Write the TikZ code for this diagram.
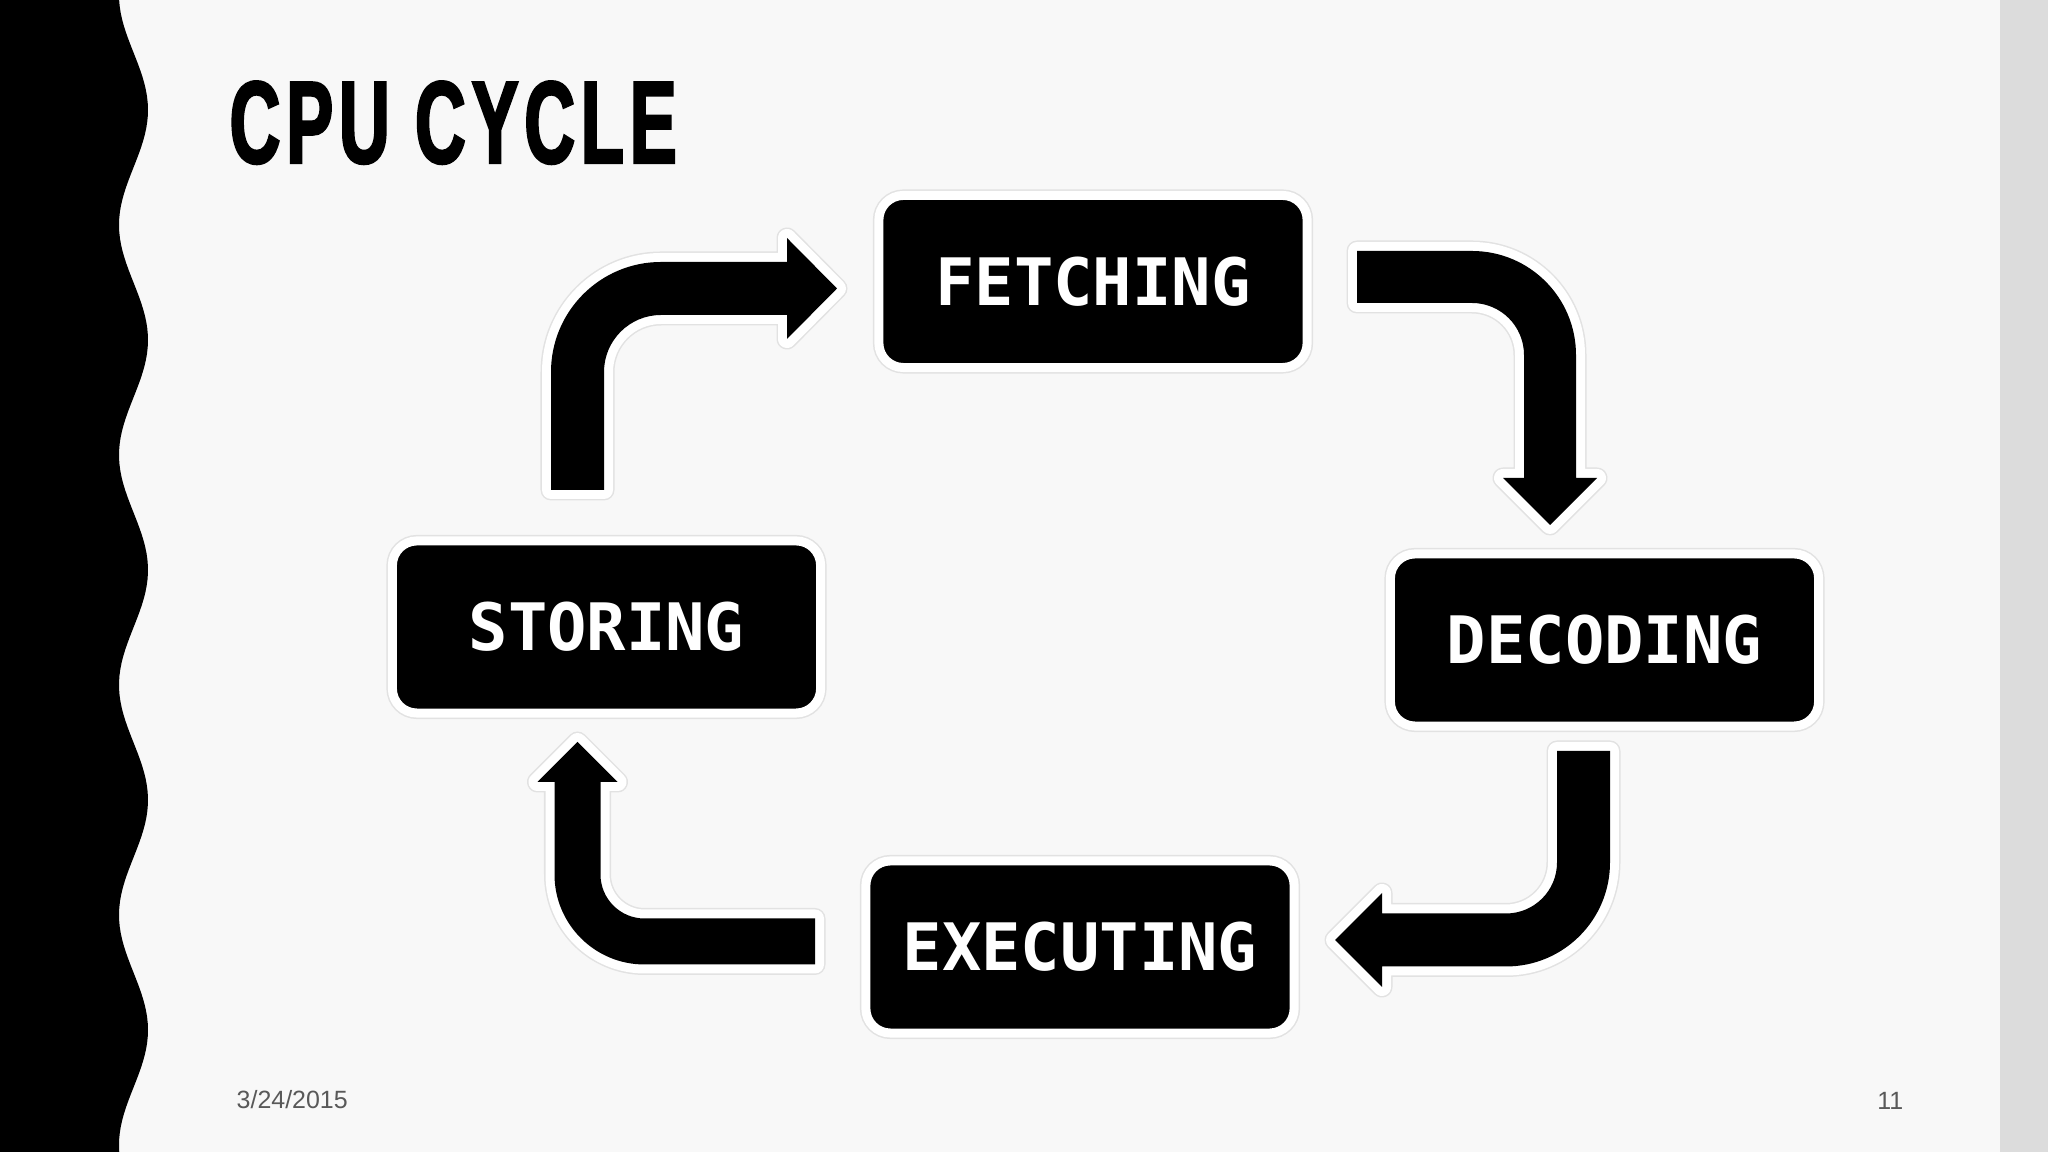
\documentclass[tikz,border=0pt]{standalone}
\usepackage{fontspec}
\setmainfont{Liberation Sans}
\newfontfamily\boxfont{DejaVu Sans Mono}
\newfontfamily\titlefont[UprightFont={* Bold},FakeStretch=0.6,FakeBold=2,LetterSpace=5]{Liberation Sans}
\definecolor{Cbgpaper}{HTML}{F8F8F8}
\definecolor{Cstripgray}{HTML}{DCDCDC}
\definecolor{Cfootgray}{HTML}{595959}
\definecolor{Cedgegray}{HTML}{E2E2E2}

\begin{document}
\begin{tikzpicture}[x=0.01cm,y=0.01cm,
		cyclebox/.style={draw=white,line width=0.09cm,fill=black,rounded corners=0.245cm,
			minimum width=4.28cm,minimum height=1.72cm,inner sep=0pt,text=white,
			font=\boxfont\bfseries\fontsize{18.6pt}{18.6pt}\selectfont,
			preaction={draw=Cedgegray,line width=0.12cm}},
		cyclearrow/.style={fill=black,
			preaction={draw=Cedgegray,line width=0.21cm,line join=round},
			preaction={draw=white,line width=0.18cm,line join=round}},
		footer/.style={inner sep=0pt,text=Cfootgray,font=\fontsize{7.1pt}{7.1pt}\selectfont}]
		\useasboundingbox (0,0) rectangle (2048,1152);
		\fill[Cbgpaper] (0,0) rectangle (2048,1152);
		\fill[black] (0,0) -- plot[domain=0:1152,samples=180] ({133.5+14.5*cos(1.5652*(1042-\x))},\x) -- (0,1152) -- cycle;
		\fill[Cstripgray] (2000,0) rectangle (2048,1152);
		\node[anchor=base west,inner sep=0pt,font=\titlefont\fontsize{33.3pt}{33.3pt}\selectfont] (title) at (229,989) {CPU CYCLE};
		\fill[cyclearrow] (551,662) -- (551,780) arc[start angle=180,end angle=90,radius=110] -- (787,890) -- (787,914)
			-- (837,863.5) -- (787,813) -- (787,837) -- (661,837) arc[start angle=90,end angle=180,radius=57] -- (604,662) -- cycle;
		\fill[cyclearrow] (1357,901) -- (1472,901) arc[start angle=90,end angle=0,radius=104] -- (1576,674) -- (1597,674)
			-- (1550,627) -- (1503,674) -- (1524,674) -- (1524,797) arc[start angle=0,end angle=90,radius=52] -- (1357,849) -- cycle;
		\fill[cyclearrow] (1610,401) -- (1610,289.5) arc[start angle=0,end angle=-90,radius=104] -- (1382,185.5) -- (1382,165)
			-- (1335,212) -- (1382,259) -- (1382,238.5) -- (1506,238.5) arc[start angle=-90,end angle=0,radius=51] -- (1557,401) -- cycle;
		\fill[cyclearrow] (815,187.5) -- (644.5,187.5) arc[start angle=-90,end angle=-180,radius=90] -- (554.5,370) -- (537.5,370)
			-- (577.5,410) -- (617.5,370) -- (600.5,370) -- (600.5,277.5) arc[start angle=180,end angle=270,radius=44] -- (815,233.5) -- cycle;
		\node[cyclebox] (fetching) at (1093,870.5) {FETCHING};
		\node[cyclebox] (decoding) at (1604.5,512) {DECODING};
		\node[cyclebox] (executing) at (1080,205) {EXECUTING};
		\node[cyclebox] (storing) at (606.5,525) {STORING};
		\node[footer,anchor=base west] (date) at (236,43) {3/24/2015};
		\node[footer,anchor=base east] (pagenum) at (1904,42) {11};
	\end{tikzpicture}
\end{document}
